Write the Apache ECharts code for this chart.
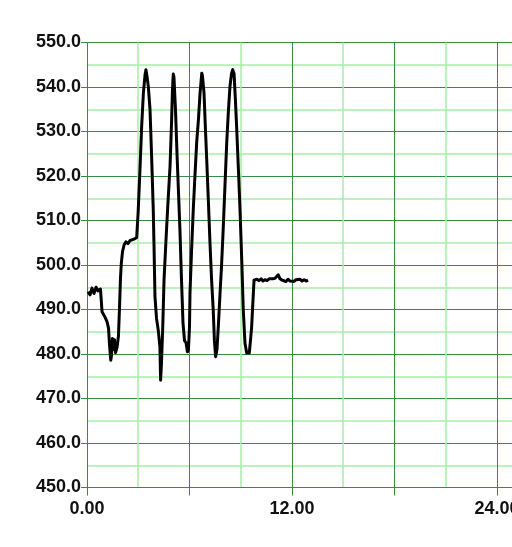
<!DOCTYPE html>
<html><head><meta charset="utf-8">
<script src="https://cdn.jsdelivr.net/npm/echarts@6/dist/echarts.min.js"></script>
<style>html,body{margin:0;padding:0;background:#fff;}#c{width:512px;height:547px;}</style>
</head><body><div id="c"></div>
<script>
const timeValues = [0.06,0.18,0.29,0.41,0.53,0.64,0.79,0.88,1.04,1.17,1.26,1.32,1.39,1.43,1.49,1.55,1.61,1.67,1.76,1.84,1.90,1.96,2.01,2.08,2.17,2.28,2.40,2.52,2.63,2.75,2.91,
3.00,3.10,3.20,3.30,3.40,3.45,3.51,3.59,3.69,3.79,3.88,3.92,3.98,4.07,4.17,4.27,4.31,4.36,4.43,4.51,4.63,4.74,4.86,4.95,5.00,5.05,5.09,5.18,5.27,5.36,5.44,5.53,5.62,5.71,5.80,5.88,5.94,6.00,
6.03,6.12,6.22,6.32,6.42,6.53,6.62,6.72,6.76,6.85,6.94,7.01,7.11,7.20,7.29,7.39,7.46,7.53,7.61,7.70,7.79,7.88,7.98,8.08,8.18,8.27,8.37,8.46,8.53,8.61,8.69,8.76,8.87,8.96,9.06,9.15,9.25,9.35,9.43,9.50,9.57,9.64,9.74,9.78,
9.84,9.95,10.07,10.19,10.30,10.42,10.54,10.66,10.77,10.89,11.01,11.12,11.20,11.30,11.42,11.53,11.65,11.77,11.89,12.00,12.12,12.24,12.35,12.47,12.59,12.71,12.83,12.94];
const signalValues = [494.0,493.3,494.8,493.6,495.0,494.2,494.6,489.5,488.4,487.3,485.8,482.0,478.6,479.5,483.5,481.0,483.2,480.3,481.5,484.0,490.0,497.0,500.4,503.0,504.5,505.2,504.8,505.5,505.3,505.8,506.2,
512.3,521.3,531.1,538.6,542.8,543.9,542.5,540.1,534.9,523.6,512.3,505.0,492.9,488.0,485.4,481.6,474.1,478.0,485.4,496.6,506.0,514.0,522.0,532.0,539.0,542.9,542.3,535.0,525.0,516.0,508.0,497.0,487.0,483.0,482.5,480.5,481.0,486.0,
493.7,503.0,512.3,520.0,527.4,533.0,538.7,543.1,542.5,538.7,530.0,523.6,514.0,505.0,497.0,489.9,483.0,479.4,481.0,487.0,493.7,500.0,508.6,518.0,527.4,534.0,540.1,543.0,543.9,543.0,537.0,531.1,521.0,512.3,501.1,489.9,482.4,480.2,480.0,480.2,483.0,486.1,493.7,496.6,
496.3,496.8,496.5,496.9,496.4,496.7,496.5,496.9,496.6,496.9,497.0,497.4,497.8,496.9,496.6,496.9,496.3,496.8,496.4,496.8,496.3,496.7,496.4,496.8,496.4,496.7,496.4,496.6];
const xTickLabels = {0:'0.00',12:'12.00',24:'24.00'};
const yMin = 450, yMax = 550, yStep = 10;
const xMin = 0, xMax = 30, xStep = 6;

const dark = '#378a44', light = '#a6eea6';
const chart = echarts.init(document.getElementById('c'));
const pts = timeValues.map((t,i)=>[t, signalValues[i]]);
chart.setOption({
  animation:false,
  backgroundColor:'#fff',
  grid:{left:87, top:42.5, height:445, width:512.4, containLabel:false, outerBoundsMode:'none'},
  xAxis:{type:'value', min:xMin, max:xMax, interval:xStep,
    axisLine:{show:true, lineStyle:{color:dark, width:1}},
    axisTick:{show:true, length:8, lineStyle:{color:dark}},
    minorTick:{show:false, splitNumber:2},
    splitLine:{show:true, lineStyle:{color:dark, width:1}},
    minorSplitLine:{show:true, lineStyle:{color:light, width:1.5}},
    axisLabel:{margin:13, color:'#111', fontFamily:'Liberation Sans, Arial', fontWeight:'bold', fontSize:18, hideOverlap:false,
      formatter:v=> xTickLabels[v] !== undefined ? xTickLabels[v] : ''}
  },
  yAxis:{type:'value', min:yMin, max:yMax, interval:yStep,
    axisLine:{show:true, lineStyle:{color:dark, width:1}},
    axisTick:{show:true, length:6, lineStyle:{color:dark}},
    minorTick:{show:false, splitNumber:2},
    splitLine:{show:true, lineStyle:{color:dark, width:1}},
    minorSplitLine:{show:true, lineStyle:{color:light, width:1.5}},
    axisLabel:{margin:6, color:'#111', fontFamily:'Liberation Sans, Arial', fontWeight:'bold', fontSize:18,
      formatter:v=>v.toFixed(1)}
  },
  series:[{type:'line', data:pts, showSymbol:false, symbol:'none',
    lineStyle:{color:'#000', width:3, join:'round'}, z:5}]
});
</script></body></html>
